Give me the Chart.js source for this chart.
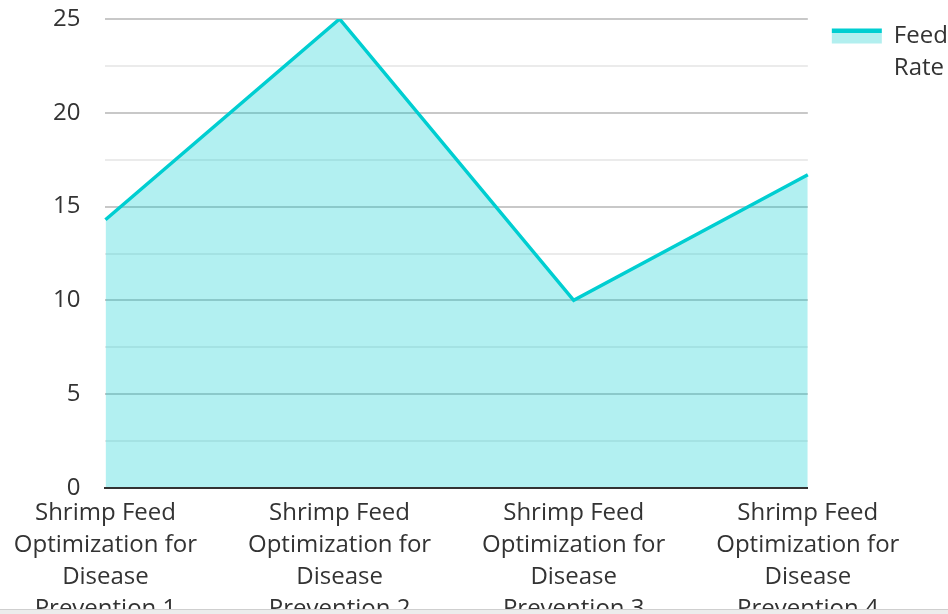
<!DOCTYPE html>
<html lang="en">
<head>
  <meta charset="UTF-8">
  <title>Feed Rate</title>
  <script src="https://cdn.jsdelivr.net/npm/chart.js"></script>
  <style>
    body {
      margin: 0;
      background: #fff;
      font-family: 'Open Sans', sans-serif;
    }
    .wrap {
      width: 948px;
      height: 609px;
      overflow: hidden;
    }
    .bar {
      height: 5px;
      border-top: 1px solid #cfcfcf;
      background: #ececec;
    }
  </style>
</head>
<body>
  <div class="wrap">
    <canvas id="feedChart" width="948" height="626"></canvas>
  </div>
  <div class="bar"></div>

<script>
  const categories = [
    ['Shrimp Feed', 'Optimization for', 'Disease', 'Prevention 1'],
    ['Shrimp Feed', 'Optimization for', 'Disease', 'Prevention 2'],
    ['Shrimp Feed', 'Optimization for', 'Disease', 'Prevention 3'],
    ['Shrimp Feed', 'Optimization for', 'Disease', 'Prevention 4']
  ];
  const feedRate = [14.3, 25, 10, 16.7];
  const yTicks = [0, 5, 10, 15, 20, 25];

  const lineColor = '#00CED1';
  const fillColor = 'rgba(0, 206, 209, 0.3)';
  const font = { family: 'Open Sans', size: 24, lineHeight: 1.3333 };

  // legend swatch: line colour along the top, area colour below
  const legendSwatch = {
    id: 'legendSwatch',
    beforeDraw(chart) {
      const lg = chart.legend;
      if (!lg || !lg.legendHitBoxes.length) return;
      const hb = lg.legendHitBoxes[0];
      const top = hb.top + Math.max((24 - 15) / 2, 0);
      const g = chart.ctx.createLinearGradient(0, top, 0, top + 15);
      g.addColorStop(0, lineColor);
      g.addColorStop(0.27, lineColor);
      g.addColorStop(0.27, '#b2efef');
      g.addColorStop(1, '#b2efef');
      lg.legendItems[0].fillStyle = g;
    }
  };

  const ctx = document.getElementById('feedChart').getContext('2d');
  new Chart(ctx, {
    type: 'line',
    data: {
      labels: categories,
      datasets: [{
        label: 'Feed Rate',
        data: feedRate,
        borderColor: lineColor,
        backgroundColor: fillColor,
        borderWidth: 3.5,
        fill: 'origin',
        tension: 0,
        pointRadius: 0,
        pointHoverRadius: 0
      }]
    },
    plugins: [legendSwatch],
    options: {
      responsive: false,
      animation: false,
      layout: {
        padding: { left: 28, top: 0, right: -6, bottom: 0 }
      },
      plugins: {
        tooltip: { enabled: false },
        legend: {
          position: 'right',
          align: 'start',
          labels: {
            color: '#333',
            font: font,
            boxWidth: 50,
            boxHeight: 15,
            padding: 24,
            generateLabels: (chart) => chart.data.datasets.map((ds, i) => ({
              text: ds.label.split(' '),
              fillStyle: '#b2efef',
              strokeStyle: 'transparent',
              lineWidth: 0,
              fontColor: '#333',
              datasetIndex: i
            }))
          }
        }
      },
      scales: {
        x: {
          offset: false,
          grid: { display: false },
          border: { display: true, color: '#333', width: 2, z: 1 },
          ticks: {
            color: '#333',
            font: font,
            maxRotation: 0,
            autoSkip: false,
            padding: 1
          }
        },
        y: {
          min: 0,
          max: 25,
          border: { display: false },
          afterFit: (s) => { s.paddingTop = 19; },
          grid: {
            drawTicks: false,
            color: (c) => (c.tick && yTicks.includes(c.tick.value)) ? '#c8c8c8' : '#ebebeb',
            lineWidth: 2
          },
          ticks: {
            stepSize: 2.5,
            color: '#333',
            font: { family: 'Open Sans', size: 24 },
            padding: 25,
            callback: (v) => yTicks.includes(v) ? v : ''
          }
        }
      }
    }
  });
</script>
</body>
</html>
